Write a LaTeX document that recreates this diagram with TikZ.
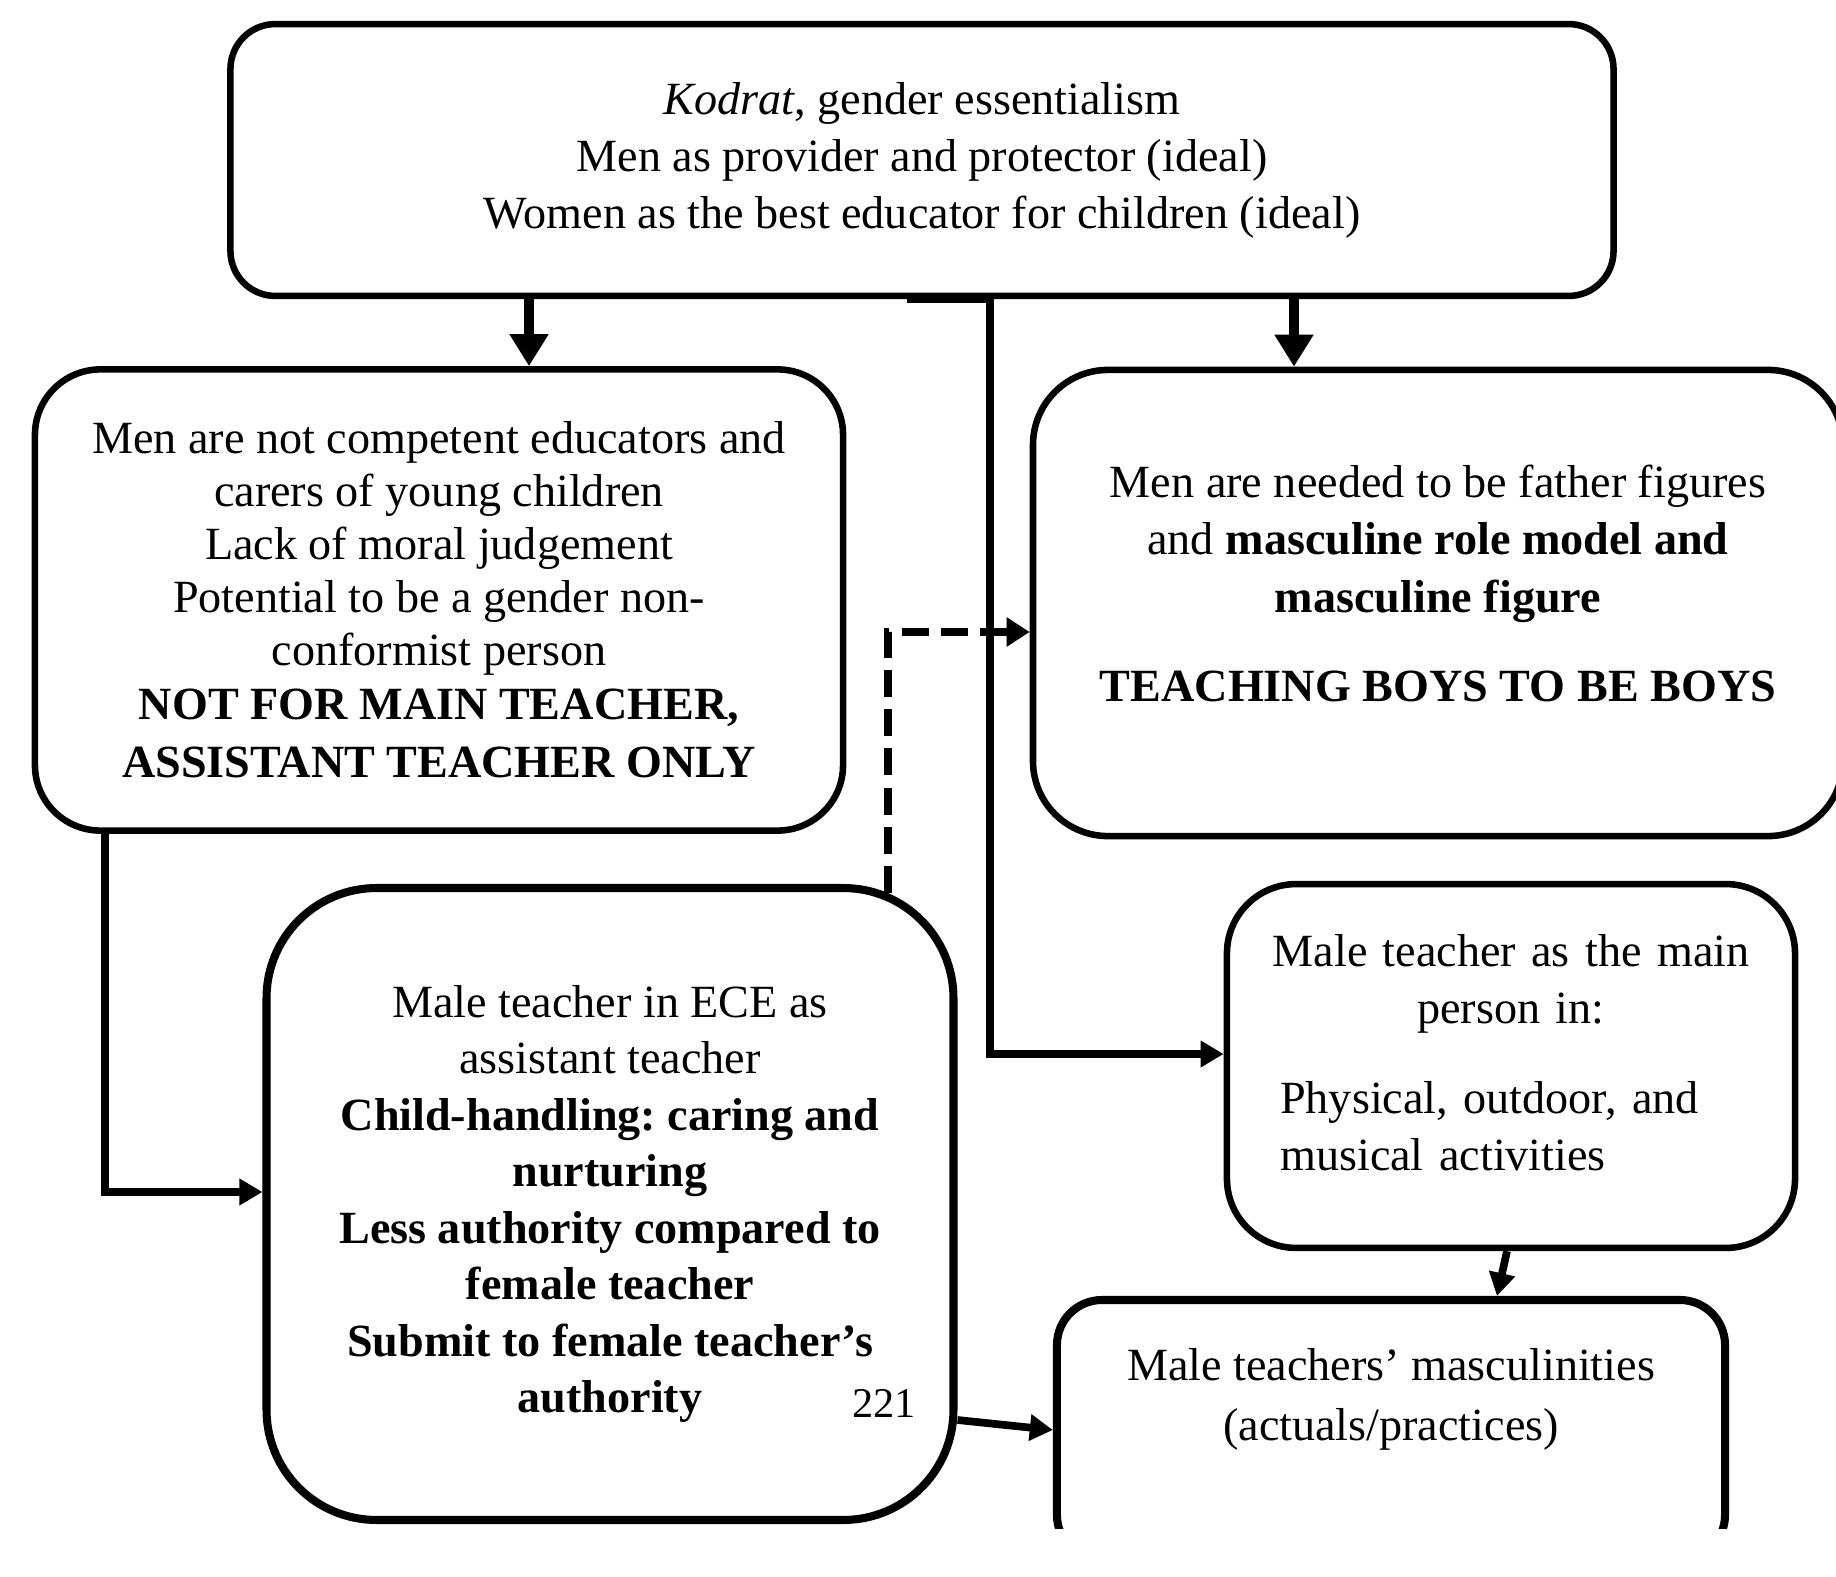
\documentclass[tikz,border=0pt]{standalone}
\usepackage[table]{xcolor}
\usepackage{pgf}
\usepackage{tikz}
\usepackage{fontspec}
\setmainfont{Liberation Serif}
\frenchspacing
\usetikzlibrary{arrows.meta,calc}

\begin{document}
\begin{tikzpicture}[x=0.26pt, y=-0.26pt,
    box/.style={draw, line width=1.7pt, inner sep=0pt, align=center, font=\fontsize{12}{14.8}\selectfont},
    link/.style={line width=2pt, -{Triangle[length=6pt,width=6.6pt]}},
    bigarrow/.style={line width=2.6pt, -{Triangle[length=8.3pt,width=9.6pt]}},
    dashlink/.style={line width=1.9pt, dash pattern=on 7pt off 3.2pt, -{Triangle[length=6pt,width=7.3pt]}}]
  \useasboundingbox (0,0) rectangle (1836,1577);
  \begin{scope}
  \clip (0,0) rectangle (1836,1528);
        \node [box, rounded corners=11.7pt, minimum width=359.6pt, minimum height=70.7pt] (top) at (922,160)
              {\textit{Kodrat}, gender essentialism\\ Men as provider and protector (ideal)\\ Women as the best educator for children (ideal)};%top
        \node [box, rounded corners=17pt, minimum width=210.1pt, minimum height=119.9pt, font=\fontsize{12}{13.8}\selectfont] (notcomp) at (439,600)
              {Men are not competent educators and\\ carers of young children\\ Lack of moral judgement\\ Potential to be a gender non-\\ conformist person\\
               \textbf{NOT FOR MAIN TEACHER,}\\[1.5pt] \textbf{ASSISTANT TEACHER ONLY}};%left
        \node [box, rounded corners=19.5pt, minimum width=210.6pt, minimum height=121.2pt, font=\fontsize{12}{15}\selectfont] (father) at (1438,603)
              {Men are needed to be father figures\\ and \textbf{masculine role model and}\\ \textbf{masculine figure}\\[8.1pt]
               \textbf{TEACHING BOYS TO BE BOYS}\\[-4.6pt]\mbox{}};%right
        \node [box, line width=2.1pt, rounded corners=28.6pt, minimum width=178.6pt, minimum height=164.3pt, font=\fontsize{12}{14.7}\selectfont] (assist) at (610,1204)
              {Male teacher in ECE as\\ assistant teacher\\ \textbf{Child-handling: caring and}\\ \textbf{nurturing}\\
               \textbf{Less authority compared to}\\ \textbf{female teacher}\\ \textbf{Submit to female teacher’s}\\ \textbf{authority}};%assistant
        \node [font=\fontsize{11}{13}\selectfont, inner sep=0pt] (pgnum) at (884,1403) {221};%
        \node [box, rounded corners=18pt, minimum width=147.7pt, minimum height=94.6pt, text width=120pt] (main) at (1511,1066)
              {\makebox[\hsize][c]{Male teacher as the main}\\ \makebox[\hsize][c]{person in:}\\[8.6pt]
               \makebox[\hsize][l]{Physical, outdoor, and}\\ \makebox[\hsize][l]{musical activities}\\[-7.8pt]\mbox{}};%main
        \node [box, line width=2.1pt, rounded corners=11.7pt, minimum width=173.7pt, minimum height=67.6pt, font=\fontsize{12}{15.6}\selectfont] (mascul) at (1391,1430)
              {Male teachers’ masculinities\\ (actuals/practices)\\[3pt]\mbox{}};%actuals
        \draw [bigarrow] ($(notcomp.north |- top.south)+(90,0)$)  -- ($(notcomp.north)+(90,0)$);     %
        \draw [bigarrow] ($(father.north |- top.south)+(-144,0)$) -- ($(father.north)+(-144,0)$);    %
        \draw [link]     ($(top.south)+(-15,0)$) -- ++(83,0) |- ($(main.west)+(0,-12)$);             %
        \draw [dashlink] ($(assist.north)+(278,9)$) |- ($(father.west)+(0,29)$);                      %
        \draw [link]     ($(notcomp.south)+(-334,0)$) |- ($(assist.west)+(0,-12)$);                   %
        \draw [link]     ($(main.south)+(-4,0)$) -- ($(mascul.north)+(106,0)$);                       %
        \draw [link]     ($(assist.east)+(0,216)$) -- (mascul.west);                                  %
  \end{scope}
\end{tikzpicture}
\end{document}
